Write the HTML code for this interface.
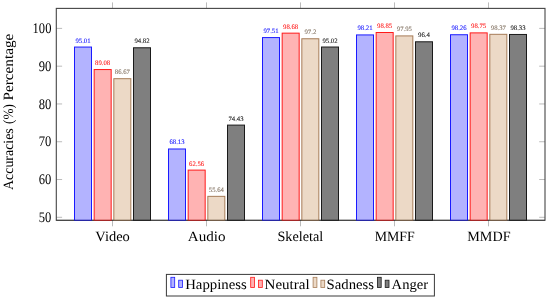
<!DOCTYPE html><html><head><meta charset="utf-8"><title>Accuracies chart</title><style>html,body{margin:0;padding:0;background:#fff;width:550px;height:300px;overflow:hidden}svg{display:block}text{font-family:'Liberation Serif', 'DejaVu Serif', serif;text-rendering:geometricPrecision}</style></head><body>
<svg width="550" height="300" viewBox="0 0 550 300">
<rect x="0" y="0" width="550" height="300" fill="#fff"/>
<path d="M56.30 28.40h5.8M545.00 28.40h-5.8M56.30 66.18h5.8M545.00 66.18h-5.8M56.30 103.96h5.8M545.00 103.96h-5.8M56.30 141.74h5.8M545.00 141.74h-5.8M56.30 179.52h5.8M545.00 179.52h-5.8M56.30 217.30h5.8M545.00 217.30h-5.8M112.50 220.30v6M112.50 8.40v-6M206.50 220.30v6M206.50 8.40v-6M300.50 220.30v6M300.50 8.40v-6M394.50 220.30v6M394.50 8.40v-6M488.50 220.30v6M488.50 8.40v-6" stroke="#aaaaaa" stroke-width="0.8" fill="none"/>
<rect x="56.30" y="8.40" width="488.70" height="211.90" fill="none" stroke="#454545" stroke-width="1.1"/>
<rect x="74.50" y="47.06" width="17.00" height="173.24" fill="#b3b3ff" stroke="#1a1aff" stroke-width="1"/>
<rect x="94.17" y="69.55" width="17.00" height="150.75" fill="#ffb3b3" stroke="#ff1a1a" stroke-width="1"/>
<rect x="113.83" y="78.69" width="17.00" height="141.61" fill="#ecd9c6" stroke="#a67c58" stroke-width="1"/>
<rect x="133.50" y="47.78" width="17.00" height="172.52" fill="#7f7f7f" stroke="#1a1a1a" stroke-width="1"/>
<rect x="168.50" y="148.99" width="17.00" height="71.31" fill="#b3b3ff" stroke="#1a1aff" stroke-width="1"/>
<rect x="188.17" y="170.11" width="17.00" height="50.19" fill="#ffb3b3" stroke="#ff1a1a" stroke-width="1"/>
<rect x="207.83" y="196.35" width="17.00" height="23.95" fill="#ecd9c6" stroke="#a67c58" stroke-width="1"/>
<rect x="227.50" y="125.10" width="17.00" height="95.20" fill="#7f7f7f" stroke="#1a1a1a" stroke-width="1"/>
<rect x="262.50" y="37.58" width="17.00" height="182.72" fill="#b3b3ff" stroke="#1a1aff" stroke-width="1"/>
<rect x="282.17" y="33.15" width="17.00" height="187.15" fill="#ffb3b3" stroke="#ff1a1a" stroke-width="1"/>
<rect x="301.83" y="38.76" width="17.00" height="181.54" fill="#ecd9c6" stroke="#a67c58" stroke-width="1"/>
<rect x="321.50" y="47.02" width="17.00" height="173.28" fill="#7f7f7f" stroke="#1a1a1a" stroke-width="1"/>
<rect x="356.50" y="34.93" width="17.00" height="185.37" fill="#b3b3ff" stroke="#1a1aff" stroke-width="1"/>
<rect x="376.17" y="32.50" width="17.00" height="187.80" fill="#ffb3b3" stroke="#ff1a1a" stroke-width="1"/>
<rect x="395.83" y="35.91" width="17.00" height="184.39" fill="#ecd9c6" stroke="#a67c58" stroke-width="1"/>
<rect x="415.50" y="41.79" width="17.00" height="178.51" fill="#7f7f7f" stroke="#1a1a1a" stroke-width="1"/>
<rect x="450.50" y="34.74" width="17.00" height="185.56" fill="#b3b3ff" stroke="#1a1aff" stroke-width="1"/>
<rect x="470.17" y="32.88" width="17.00" height="187.42" fill="#ffb3b3" stroke="#ff1a1a" stroke-width="1"/>
<rect x="489.83" y="34.32" width="17.00" height="185.98" fill="#ecd9c6" stroke="#a67c58" stroke-width="1"/>
<rect x="509.50" y="34.47" width="17.00" height="185.83" fill="#7f7f7f" stroke="#1a1a1a" stroke-width="1"/>
<path d="M56.30 220.30H545.00" stroke="#202020" stroke-opacity="0.45" stroke-width="1.1" fill="none"/>
<text transform="translate(83.00 42.56) scale(0.2500)" x="0" y="0" font-size="26.80" fill="#2020ff" stroke="#2020ff" stroke-width="0.40" text-anchor="middle" textLength="60.40" lengthAdjust="spacingAndGlyphs">95.01</text>
<text transform="translate(102.67 65.05) scale(0.2500)" x="0" y="0" font-size="26.80" fill="#ff2020" stroke="#ff2020" stroke-width="0.40" text-anchor="middle" textLength="60.40" lengthAdjust="spacingAndGlyphs">89.08</text>
<text transform="translate(122.33 74.19) scale(0.2500)" x="0" y="0" font-size="26.80" fill="#857565" stroke="#857565" stroke-width="0.40" text-anchor="middle" textLength="60.40" lengthAdjust="spacingAndGlyphs">86.67</text>
<text transform="translate(142.00 43.28) scale(0.2500)" x="0" y="0" font-size="26.80" fill="#1a1a1a" stroke="#1a1a1a" stroke-width="0.40" text-anchor="middle" textLength="60.40" lengthAdjust="spacingAndGlyphs">94.82</text>
<text transform="translate(177.00 144.49) scale(0.2500)" x="0" y="0" font-size="26.80" fill="#2020ff" stroke="#2020ff" stroke-width="0.40" text-anchor="middle" textLength="60.40" lengthAdjust="spacingAndGlyphs">68.13</text>
<text transform="translate(196.67 165.61) scale(0.2500)" x="0" y="0" font-size="26.80" fill="#ff2020" stroke="#ff2020" stroke-width="0.40" text-anchor="middle" textLength="60.40" lengthAdjust="spacingAndGlyphs">62.56</text>
<text transform="translate(216.33 191.85) scale(0.2500)" x="0" y="0" font-size="26.80" fill="#857565" stroke="#857565" stroke-width="0.40" text-anchor="middle" textLength="60.40" lengthAdjust="spacingAndGlyphs">55.64</text>
<text transform="translate(236.00 120.60) scale(0.2500)" x="0" y="0" font-size="26.80" fill="#1a1a1a" stroke="#1a1a1a" stroke-width="0.40" text-anchor="middle" textLength="60.40" lengthAdjust="spacingAndGlyphs">74.43</text>
<text transform="translate(271.00 33.08) scale(0.2500)" x="0" y="0" font-size="26.80" fill="#2020ff" stroke="#2020ff" stroke-width="0.40" text-anchor="middle" textLength="60.40" lengthAdjust="spacingAndGlyphs">97.51</text>
<text transform="translate(290.67 28.65) scale(0.2500)" x="0" y="0" font-size="26.80" fill="#ff2020" stroke="#ff2020" stroke-width="0.40" text-anchor="middle" textLength="60.40" lengthAdjust="spacingAndGlyphs">98.68</text>
<text transform="translate(310.33 34.26) scale(0.2500)" x="0" y="0" font-size="26.80" fill="#857565" stroke="#857565" stroke-width="0.40" text-anchor="middle" textLength="47.60" lengthAdjust="spacingAndGlyphs">97.2</text>
<text transform="translate(330.00 42.52) scale(0.2500)" x="0" y="0" font-size="26.80" fill="#1a1a1a" stroke="#1a1a1a" stroke-width="0.40" text-anchor="middle" textLength="60.40" lengthAdjust="spacingAndGlyphs">95.02</text>
<text transform="translate(365.00 30.43) scale(0.2500)" x="0" y="0" font-size="26.80" fill="#2020ff" stroke="#2020ff" stroke-width="0.40" text-anchor="middle" textLength="60.40" lengthAdjust="spacingAndGlyphs">98.21</text>
<text transform="translate(384.67 28.00) scale(0.2500)" x="0" y="0" font-size="26.80" fill="#ff2020" stroke="#ff2020" stroke-width="0.40" text-anchor="middle" textLength="60.40" lengthAdjust="spacingAndGlyphs">98.85</text>
<text transform="translate(404.33 31.41) scale(0.2500)" x="0" y="0" font-size="26.80" fill="#857565" stroke="#857565" stroke-width="0.40" text-anchor="middle" textLength="60.40" lengthAdjust="spacingAndGlyphs">97.95</text>
<text transform="translate(424.00 37.29) scale(0.2500)" x="0" y="0" font-size="26.80" fill="#1a1a1a" stroke="#1a1a1a" stroke-width="0.40" text-anchor="middle" textLength="47.60" lengthAdjust="spacingAndGlyphs">96.4</text>
<text transform="translate(459.00 30.24) scale(0.2500)" x="0" y="0" font-size="26.80" fill="#2020ff" stroke="#2020ff" stroke-width="0.40" text-anchor="middle" textLength="60.40" lengthAdjust="spacingAndGlyphs">98.26</text>
<text transform="translate(478.67 28.38) scale(0.2500)" x="0" y="0" font-size="26.80" fill="#ff2020" stroke="#ff2020" stroke-width="0.40" text-anchor="middle" textLength="60.40" lengthAdjust="spacingAndGlyphs">98.75</text>
<text transform="translate(498.33 29.82) scale(0.2500)" x="0" y="0" font-size="26.80" fill="#857565" stroke="#857565" stroke-width="0.40" text-anchor="middle" textLength="60.40" lengthAdjust="spacingAndGlyphs">98.37</text>
<text transform="translate(518.00 29.97) scale(0.2500)" x="0" y="0" font-size="26.80" fill="#1a1a1a" stroke="#1a1a1a" stroke-width="0.40" text-anchor="middle" textLength="60.40" lengthAdjust="spacingAndGlyphs">98.33</text>
<text x="51.4" y="33.00" font-size="14.6" fill="#000" text-anchor="end" textLength="18.8" lengthAdjust="spacingAndGlyphs">100</text>
<text x="51.4" y="70.78" font-size="14.6" fill="#000" text-anchor="end" textLength="12.6" lengthAdjust="spacingAndGlyphs">90</text>
<text x="51.4" y="108.56" font-size="14.6" fill="#000" text-anchor="end" textLength="12.6" lengthAdjust="spacingAndGlyphs">80</text>
<text x="51.4" y="146.34" font-size="14.6" fill="#000" text-anchor="end" textLength="12.6" lengthAdjust="spacingAndGlyphs">70</text>
<text x="51.4" y="184.12" font-size="14.6" fill="#000" text-anchor="end" textLength="12.6" lengthAdjust="spacingAndGlyphs">60</text>
<text x="51.4" y="221.90" font-size="14.6" fill="#000" text-anchor="end" textLength="12.6" lengthAdjust="spacingAndGlyphs">50</text>
<text x="112.60" y="240.6" font-size="14.2" fill="#000" text-anchor="middle" textLength="34.50" lengthAdjust="spacingAndGlyphs">Video</text>
<text x="206.70" y="240.6" font-size="14.2" fill="#000" text-anchor="middle" textLength="37.70" lengthAdjust="spacingAndGlyphs">Audio</text>
<text x="300.30" y="240.6" font-size="14.2" fill="#000" text-anchor="middle" textLength="45.80" lengthAdjust="spacingAndGlyphs">Skeletal</text>
<text x="394.75" y="240.6" font-size="14.2" fill="#000" text-anchor="middle" textLength="40.00" lengthAdjust="spacingAndGlyphs">MMFF</text>
<text x="488.90" y="240.6" font-size="14.2" fill="#000" text-anchor="middle" textLength="43.30" lengthAdjust="spacingAndGlyphs">MMDF</text>
<text transform="translate(13.4 189.90) rotate(-90)" x="0" y="0" font-size="14.2" fill="#000" textLength="61.60" lengthAdjust="spacingAndGlyphs">Accuracies</text>
<text transform="translate(13.4 124.00) rotate(-90)" x="0" y="0" font-size="14.2" fill="#000" textLength="19.90" lengthAdjust="spacingAndGlyphs">(%)</text>
<text transform="translate(13.4 100.40) rotate(-90)" x="0" y="0" font-size="14.2" fill="#000" textLength="66.70" lengthAdjust="spacingAndGlyphs">Percentage</text>
<rect x="166.4" y="274.4" width="268" height="21.6" fill="#fff" stroke="#3a3a3a" stroke-width="1"/>
<rect x="170.90" y="277.3" width="3.8" height="10.2" fill="#b3b3ff" stroke="#1a1aff" stroke-width="0.8"/>
<rect x="178.70" y="280.2" width="3.8" height="7.3" fill="#b3b3ff" stroke="#1a1aff" stroke-width="0.8"/>
<text x="185.20" y="288.6" font-size="14.2" fill="#000" textLength="61.60" lengthAdjust="spacingAndGlyphs">Happiness</text>
<rect x="250.70" y="277.3" width="3.8" height="10.2" fill="#ffb3b3" stroke="#ff1a1a" stroke-width="0.8"/>
<rect x="258.50" y="280.2" width="3.8" height="7.3" fill="#ffb3b3" stroke="#ff1a1a" stroke-width="0.8"/>
<text x="264.60" y="288.6" font-size="14.2" fill="#000" textLength="45.00" lengthAdjust="spacingAndGlyphs">Neutral</text>
<rect x="313.10" y="277.3" width="3.8" height="10.2" fill="#ecd9c6" stroke="#a67c58" stroke-width="0.8"/>
<rect x="320.90" y="280.2" width="3.8" height="7.3" fill="#ecd9c6" stroke="#a67c58" stroke-width="0.8"/>
<text x="326.60" y="288.6" font-size="14.2" fill="#000" textLength="47.40" lengthAdjust="spacingAndGlyphs">Sadness</text>
<rect x="377.40" y="277.3" width="3.8" height="10.2" fill="#7f7f7f" stroke="#1a1a1a" stroke-width="0.8"/>
<rect x="385.20" y="280.2" width="3.8" height="7.3" fill="#7f7f7f" stroke="#1a1a1a" stroke-width="0.8"/>
<text x="391.60" y="288.6" font-size="14.2" fill="#000" textLength="36.50" lengthAdjust="spacingAndGlyphs">Anger</text>
</svg></body></html>
